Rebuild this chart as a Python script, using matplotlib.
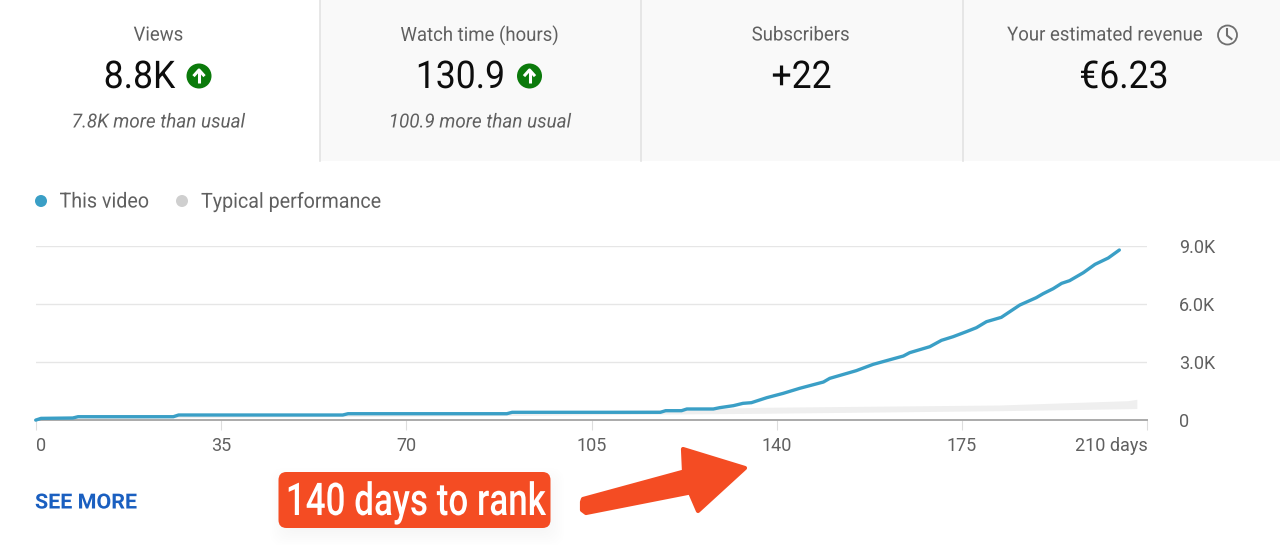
import matplotlib
matplotlib.use("Agg")
import matplotlib.pyplot as plt
import matplotlib.patheffects as pe
from matplotlib.patches import Rectangle, FancyBboxPatch, Circle, Polygon
from matplotlib.transforms import Affine2D

# cumulative views of this video
video_days = [0, 1, 7, 8, 26, 27, 58, 59, 89, 90, 118, 119, 122, 123, 128, 129.2, 131.8, 133.6, 135.2, 138.1,
              141.2, 144.3, 148.8, 150, 155, 158.2, 163.9, 165.1, 168.9, 171.1, 173.3, 175.8, 177.7, 179.6,
              182.4, 185.9, 189, 190.3, 192.2, 193.8, 195.3, 197.9, 200.1, 202.6, 204.7]
video_views = [10, 100, 119, 186, 186, 274, 274, 341, 341, 414, 414, 497, 497, 585, 585, 653, 757, 877, 912, 1170,
               1394, 1653, 1980, 2170, 2567, 2894, 3325, 3498, 3808, 4136, 4325, 4584, 4790, 5101,
               5325, 5963, 6342, 6549, 6808, 7084, 7222, 7635, 8066, 8394, 8808]

# typical performance band
typical_days = [0, 30, 60, 90, 120, 137, 182, 206.3, 208]
typical_high = [70, 250, 325, 430, 560, 672, 791, 1014, 1086]
typical_low = [0, 145, 197, 248, 326, 362, 497, 600, 610]

x_ticks = [0, 35, 70, 105, 140, 175, 210]
x_labels = ["0", "35", "70", "105", "140", "175", "210 days"]
y_ticks = [0, 3000, 6000, 9000]
y_labels = ["0", "3.0K", "6.0K", "9.0K"]

# header cards
card_titles = ["Views", "Watch time (hours)", "Subscribers", "Your estimated revenue"]
card_values = ["8.8K", "130.9", "+22", "€6.23"]
card_notes = ["7.8K more than usual", "100.9 more than usual"]

FONT = ["Roboto", "DejaVu Sans"]
GREY = "#606060"
RED = "#f44c23"
BLUE = "#3a9fc6"

plt.rcParams["font.family"] = FONT


class Squeeze(pe.AbstractPathEffect):
    """Narrow a text horizontally, there is no condensed Roboto to use."""

    def __init__(self, sx, left=False):
        super().__init__()
        self.sx = sx
        self.left = left

    def draw_path(self, renderer, gc, tpath, affine, rgbFace=None):
        box = tpath.get_extents()
        x0 = box.x0 if self.left else (box.x0 + box.x1) / 2
        narrow = Affine2D().translate(-x0, 0).scale(self.sx, 1).translate(x0, 0)
        renderer.draw_path(gc, tpath, narrow + affine, rgbFace)


W, H = 1280, 545
fig = plt.figure(figsize=(W / 100, H / 100), dpi=100)

# overlay in pixel units for the cards and the callout
pane = fig.add_axes([0, 0, 1, 1])
pane.set_xlim(0, W)
pane.set_ylim(H, 0)
pane.axis("off")

pane.add_patch(Rectangle((320, 0), 960, 161, fc="#f9f9f9", ec="none"))
for xd in [320, 641, 963]:
    pane.plot([xd, xd], [0, 161], color="#e3e3e3", lw=1.2)

title_x = [158.5, 480, 801, 1105.5]
value_x = [139.5, 460.5, 801.5, 1124]
for i in range(4):
    pane.text(title_x[i], 35.5, card_titles[i], ha="center", va="center", fontsize=14, color=GREY,
              path_effects=[Squeeze(0.955)])
    pane.text(value_x[i], 77.5, card_values[i], ha="center", va="center", fontsize=27.5, color="#0d0d0d",
              path_effects=[Squeeze(0.93)])
note_x = [158.5, 480]
for i in range(2):
    pane.text(note_x[i], 122.5, card_notes[i], ha="center", va="center", fontsize=14, color=GREY, style="italic",
              path_effects=[Squeeze(0.97)])

# green up badges
for cx in [199, 529.5]:
    pane.add_patch(Circle((cx, 76), 12.5, fc="#0b7a0b", ec="none"))
    pane.plot([cx, cx], [82.5, 70.5], color="white", lw=2.2, solid_capstyle="butt")
    pane.plot([cx - 4.5, cx, cx + 4.5], [75, 70, 75], color="white", lw=2.2)

# clock icon
pane.add_patch(Circle((1227.5, 35), 9.5, fc="none", ec="#6f6f6f", lw=1.3))
pane.plot([1227, 1227, 1231.5], [29, 35.5, 39], color="#6f6f6f", lw=1.5)

# legend row
pane.add_patch(Circle((41, 201), 6, fc=BLUE, ec="none"))
pane.add_patch(Circle((182, 201), 6, fc="#cfcfcf", ec="none"))
pane.text(59.5, 202, "This video", ha="left", va="center", fontsize=15, color=GREY,
          path_effects=[Squeeze(0.945, left=True)])
pane.text(201, 202, "Typical performance", ha="left", va="center", fontsize=15, color=GREY,
          path_effects=[Squeeze(0.945, left=True)])

pane.text(35, 503, "SEE MORE", ha="left", va="center", fontsize=15, color="#1a5fc0", fontweight="bold",
          path_effects=[Squeeze(1.03, left=True)])

# callout with a soft shadow below it
for grow in range(0, 24, 2):
    pane.add_patch(FancyBboxPatch((292 - grow, 490 - grow), 250 + 2 * grow, 34 + 2 * grow,
                                  boxstyle="round,pad=0,rounding_size=14", fc="black", ec="none", alpha=0.005))
pane.add_patch(FancyBboxPatch((278.5, 472), 272, 56, boxstyle="round,pad=0,rounding_size=8", fc=RED, ec="none"))
pane.text(285, 503, "140 days to rank", ha="left", va="center", fontsize=32.5, color="white",
          fontweight="medium", path_effects=[Squeeze(0.775, left=True)])
pane.add_patch(Polygon([(583, 499), (684, 471.5), (683, 449), (745, 468), (698, 511), (690, 492.5),
                        (586, 513), (582, 510), (582, 502)],
                       closed=True, fc=RED, ec=RED, lw=3, joinstyle="round"))

# chart area
ax = fig.add_axes([35.7 / W, 1 - 420.3 / H, (1147.4 - 35.7) / W, 174 / H])
ax.patch.set_alpha(0)
ax.set_xlim(0, 210)
ax.set_ylim(0, 9000)
ax.fill_between(typical_days, typical_low, typical_high, color="#efefef", lw=0, zorder=2)
ax.plot(video_days, video_views, color=BLUE, lw=2.4, zorder=3, clip_on=False, solid_capstyle="round")

for side in ["top", "left", "right"]:
    ax.spines[side].set_visible(False)
ax.spines["bottom"].set_color("#aaaaaa")
ax.spines["bottom"].set_linewidth(1.4)

ax.set_xticks(x_ticks)
ax.set_xticklabels(x_labels, fontsize=13, color=GREY)
ax.tick_params(axis="x", length=7, width=0.8, color="#dddddd", pad=5)
labs = ax.get_xticklabels()
labs[0].set_ha("left")
labs[-1].set_ha("right")

ax.yaxis.tick_right()
ax.set_yticks(y_ticks)
ax.set_yticklabels(y_labels, fontsize=13, color=GREY)
ax.tick_params(axis="y", length=0, pad=22.5)
ax.grid(axis="y", color="#e6e6e6", lw=1)
ax.set_axisbelow(True)

fig.savefig("out.png", dpi=100)
plt.close()
